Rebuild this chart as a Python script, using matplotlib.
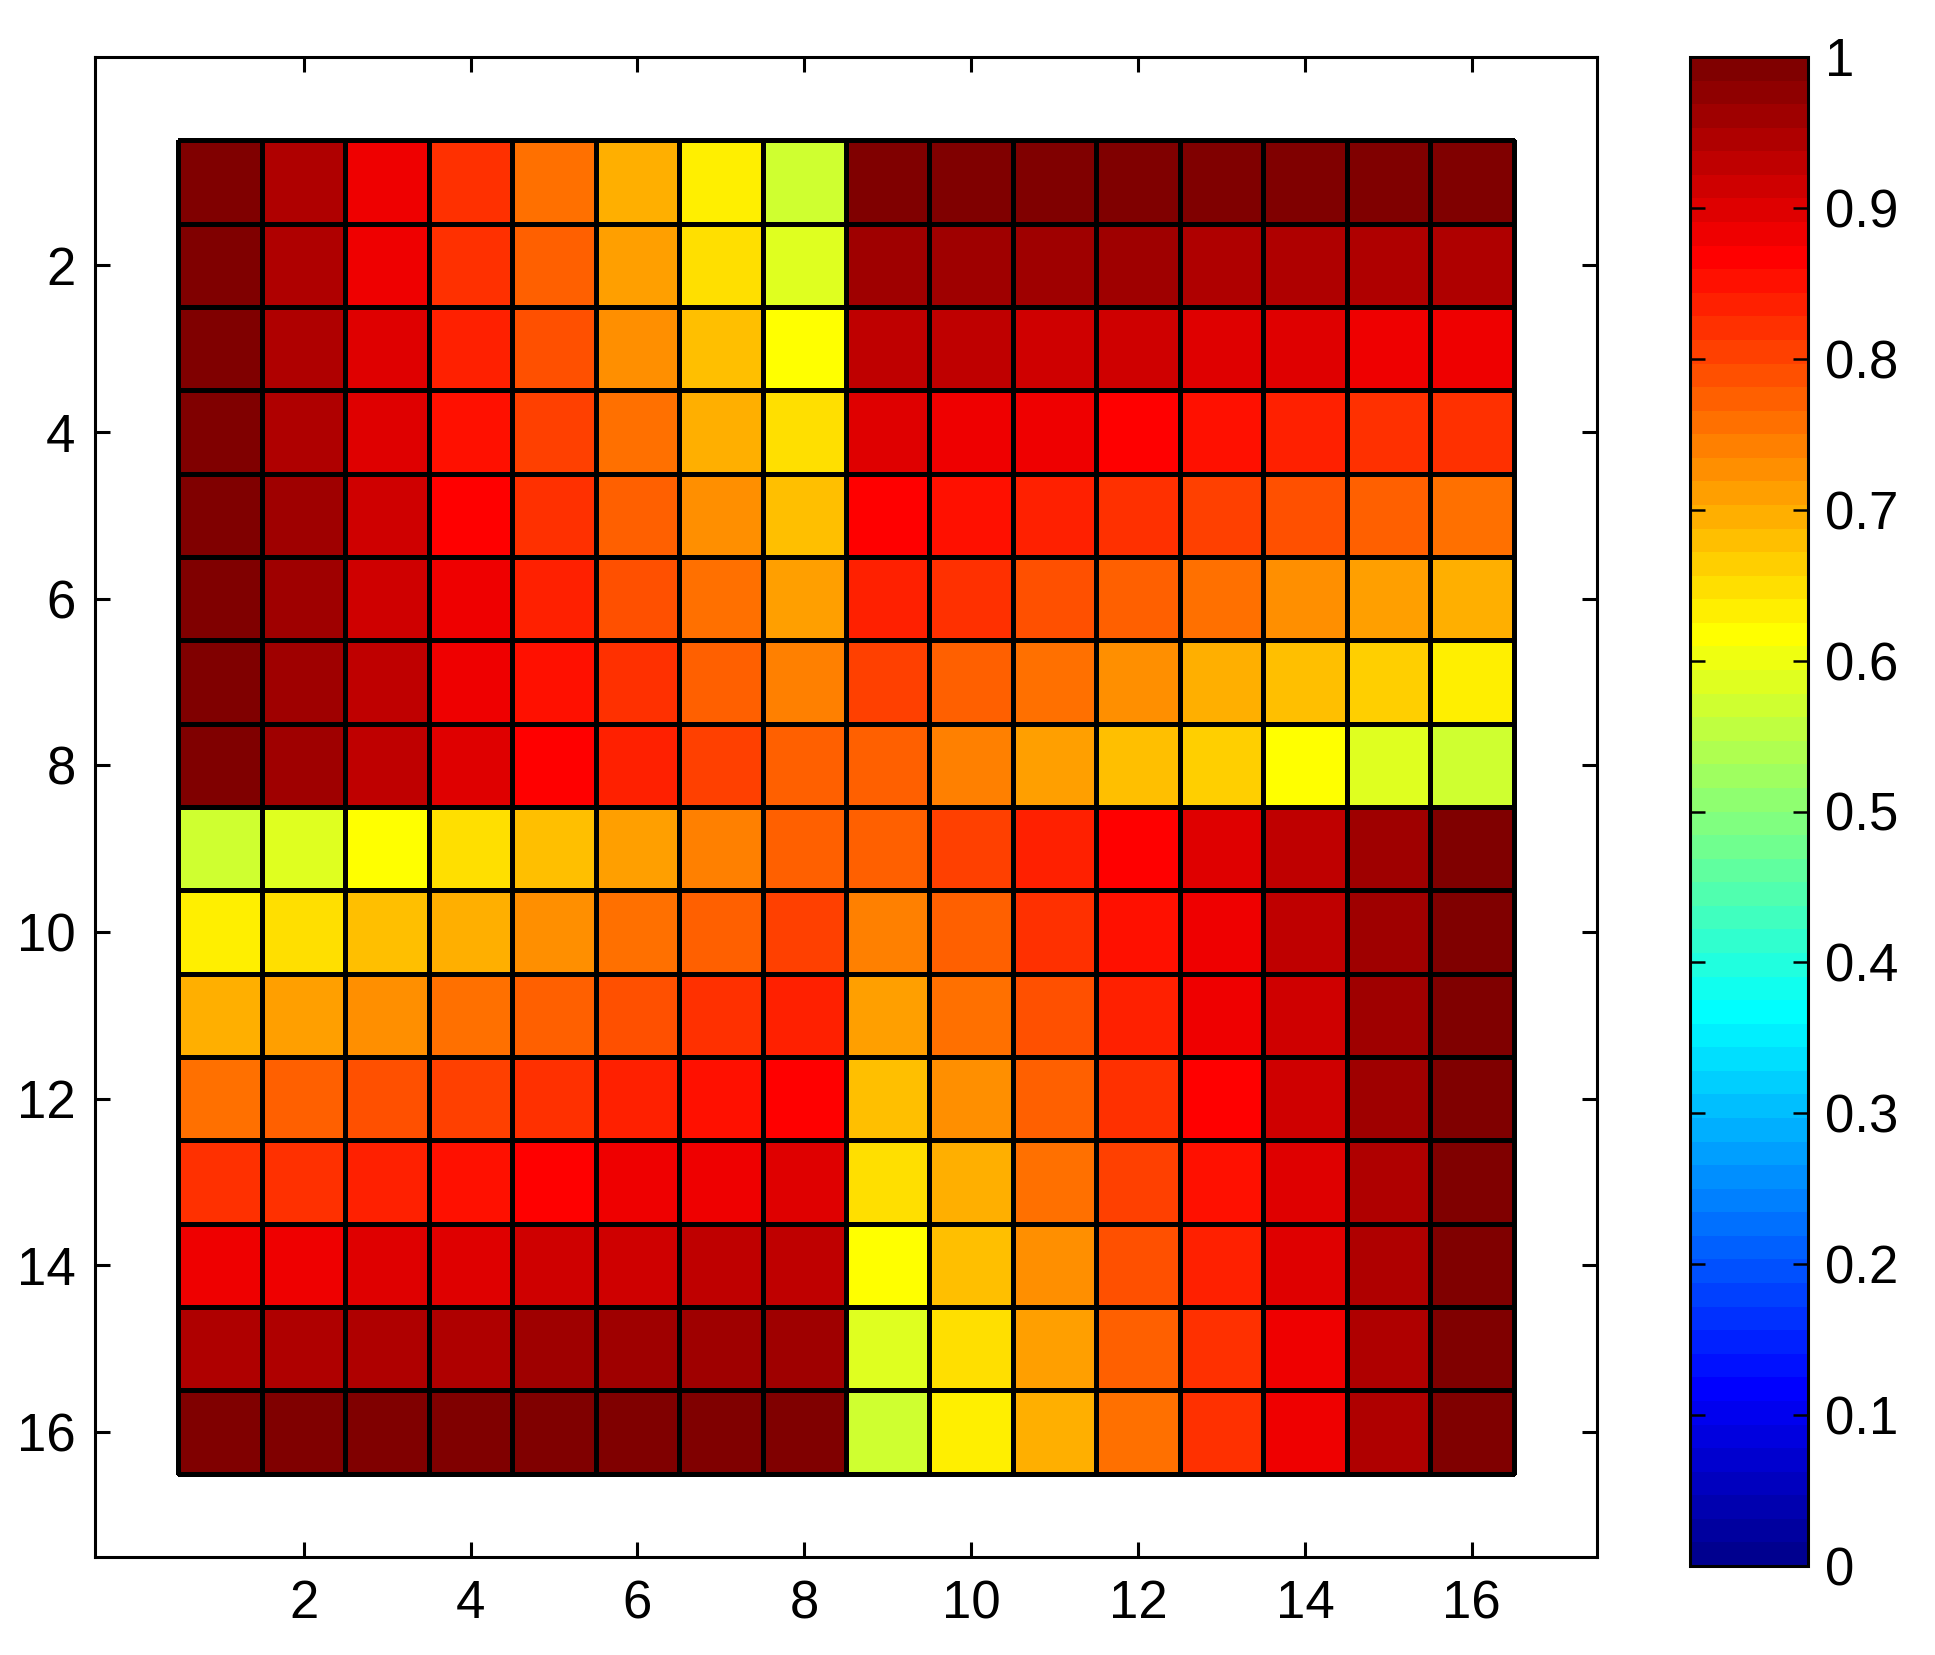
import numpy as np
import matplotlib
matplotlib.use("Agg")
import matplotlib.pyplot as plt
from matplotlib.colors import ListedColormap

plt.rcParams['font.family'] = ['Liberation Sans', 'DejaVu Sans']

# ---- data (16 x 16 matrix, row 1 at top) ----
rows = list(range(1, 17))
cols = list(range(1, 17))

r01 = [0.99, 0.95, 0.88, 0.82, 0.76, 0.70, 0.63, 0.57, 0.99, 0.99, 0.99, 0.99, 0.99, 0.99, 0.99, 0.99]
r02 = [0.99, 0.95, 0.88, 0.82, 0.77, 0.71, 0.65, 0.59, 0.96, 0.96, 0.96, 0.96, 0.95, 0.95, 0.95, 0.95]
r03 = [0.99, 0.95, 0.90, 0.84, 0.79, 0.73, 0.68, 0.62, 0.93, 0.93, 0.91, 0.91, 0.90, 0.90, 0.88, 0.88]
r04 = [0.99, 0.95, 0.90, 0.85, 0.80, 0.76, 0.70, 0.65, 0.90, 0.88, 0.88, 0.87, 0.85, 0.84, 0.82, 0.82]
r05 = [0.99, 0.96, 0.91, 0.87, 0.82, 0.77, 0.73, 0.68, 0.87, 0.85, 0.84, 0.82, 0.80, 0.79, 0.77, 0.76]
r06 = [0.99, 0.96, 0.91, 0.88, 0.84, 0.79, 0.76, 0.71, 0.84, 0.82, 0.79, 0.77, 0.76, 0.73, 0.71, 0.70]
r07 = [0.99, 0.96, 0.93, 0.88, 0.85, 0.82, 0.77, 0.74, 0.80, 0.77, 0.76, 0.73, 0.70, 0.68, 0.66, 0.63]
r08 = [0.99, 0.96, 0.93, 0.90, 0.87, 0.84, 0.80, 0.77, 0.77, 0.74, 0.71, 0.68, 0.66, 0.62, 0.59, 0.57]
r09 = [0.57, 0.59, 0.62, 0.65, 0.68, 0.71, 0.74, 0.77, 0.77, 0.80, 0.84, 0.87, 0.90, 0.93, 0.96, 0.99]
r10 = [0.63, 0.65, 0.68, 0.70, 0.73, 0.76, 0.77, 0.80, 0.74, 0.77, 0.82, 0.85, 0.88, 0.93, 0.96, 0.99]
r11 = [0.70, 0.71, 0.73, 0.76, 0.77, 0.79, 0.82, 0.84, 0.71, 0.76, 0.79, 0.84, 0.88, 0.91, 0.96, 0.99]
r12 = [0.76, 0.77, 0.79, 0.80, 0.82, 0.84, 0.85, 0.87, 0.68, 0.73, 0.77, 0.82, 0.87, 0.91, 0.96, 0.99]
r13 = [0.82, 0.82, 0.84, 0.85, 0.87, 0.88, 0.88, 0.90, 0.65, 0.70, 0.76, 0.80, 0.85, 0.90, 0.95, 0.99]
r14 = [0.88, 0.88, 0.90, 0.90, 0.91, 0.91, 0.93, 0.93, 0.62, 0.68, 0.73, 0.79, 0.84, 0.90, 0.95, 0.99]
r15 = [0.95, 0.95, 0.95, 0.95, 0.96, 0.96, 0.96, 0.96, 0.59, 0.65, 0.71, 0.77, 0.82, 0.88, 0.95, 0.99]
r16 = [0.99, 0.99, 0.99, 0.99, 0.99, 0.99, 0.99, 0.99, 0.57, 0.63, 0.70, 0.76, 0.82, 0.88, 0.95, 0.99]

matrix = np.array([r01, r02, r03, r04, r05, r06, r07, r08,
                   r09, r10, r11, r12, r13, r14, r15, r16])

xticks = [2, 4, 6, 8, 10, 12, 14, 16]
yticks = [2, 4, 6, 8, 10, 12, 14, 16]
cbar_ticks = [0, 0.1, 0.2, 0.3, 0.4, 0.5, 0.6, 0.7, 0.8, 0.9, 1]
cbar_labels = ['0', '0.1', '0.2', '0.3', '0.4', '0.5', '0.6', '0.7', '0.8', '0.9', '1']

# ---- MATLAB-style jet(64) colormap ----
n = 64
m = 16
u = np.concatenate([np.arange(1, m + 1) / m, np.ones(m - 1), np.arange(m, 0, -1) / m])
g = (m // 2) + np.arange(1, len(u) + 1)
r = g + m
b = g - m
J = np.zeros((n, 3))
sel = r <= n
J[r[sel] - 1, 0] = u[sel]
sel = g <= n
J[g[sel] - 1, 1] = u[sel]
sel = b >= 1
J[b[sel] - 1, 2] = u[sel]
cmap = ListedColormap(J)

# ---- figure ----
W, H = 1935, 1655
fig = plt.figure(figsize=(W / 100, H / 100), dpi=100)

ax = fig.add_axes([95 / W, 1 - 1557 / H, (1597 - 95) / W, (1557 - 57) / H])
xe = np.arange(0.5, len(cols) + 1, 1.0)
ye = np.arange(0.5, len(rows) + 1, 1.0)
mesh = ax.pcolormesh(xe, ye, matrix, cmap=cmap, vmin=0, vmax=1,
                     edgecolors='black', linewidth=2.2)
ax.set_xlim(-0.5, 17.5)
ax.set_ylim(17.5, -0.5)
ax.set_xticks(xticks)
ax.set_yticks(yticks)
ax.tick_params(axis='both', direction='in', length=11, width=2.2,
               top=True, right=True, labelsize=38, colors='black')
ax.tick_params(axis='x', pad=16)
ax.tick_params(axis='y', pad=14)
for s in ax.spines.values():
    s.set_linewidth(2.2)

cax = fig.add_axes([1690 / W, 1 - 1566 / H, (1808 - 1690) / W, (1566 - 57) / H])
cb = fig.colorbar(mesh, cax=cax)
cb.set_ticks(cbar_ticks)
cb.set_ticklabels(cbar_labels)
cb.outline.set_linewidth(2.2)
cax.tick_params(direction='in', length=11, width=1.8, left=True, right=True,
                labelsize=38, pad=12)

fig.savefig('out.png', dpi=100)
